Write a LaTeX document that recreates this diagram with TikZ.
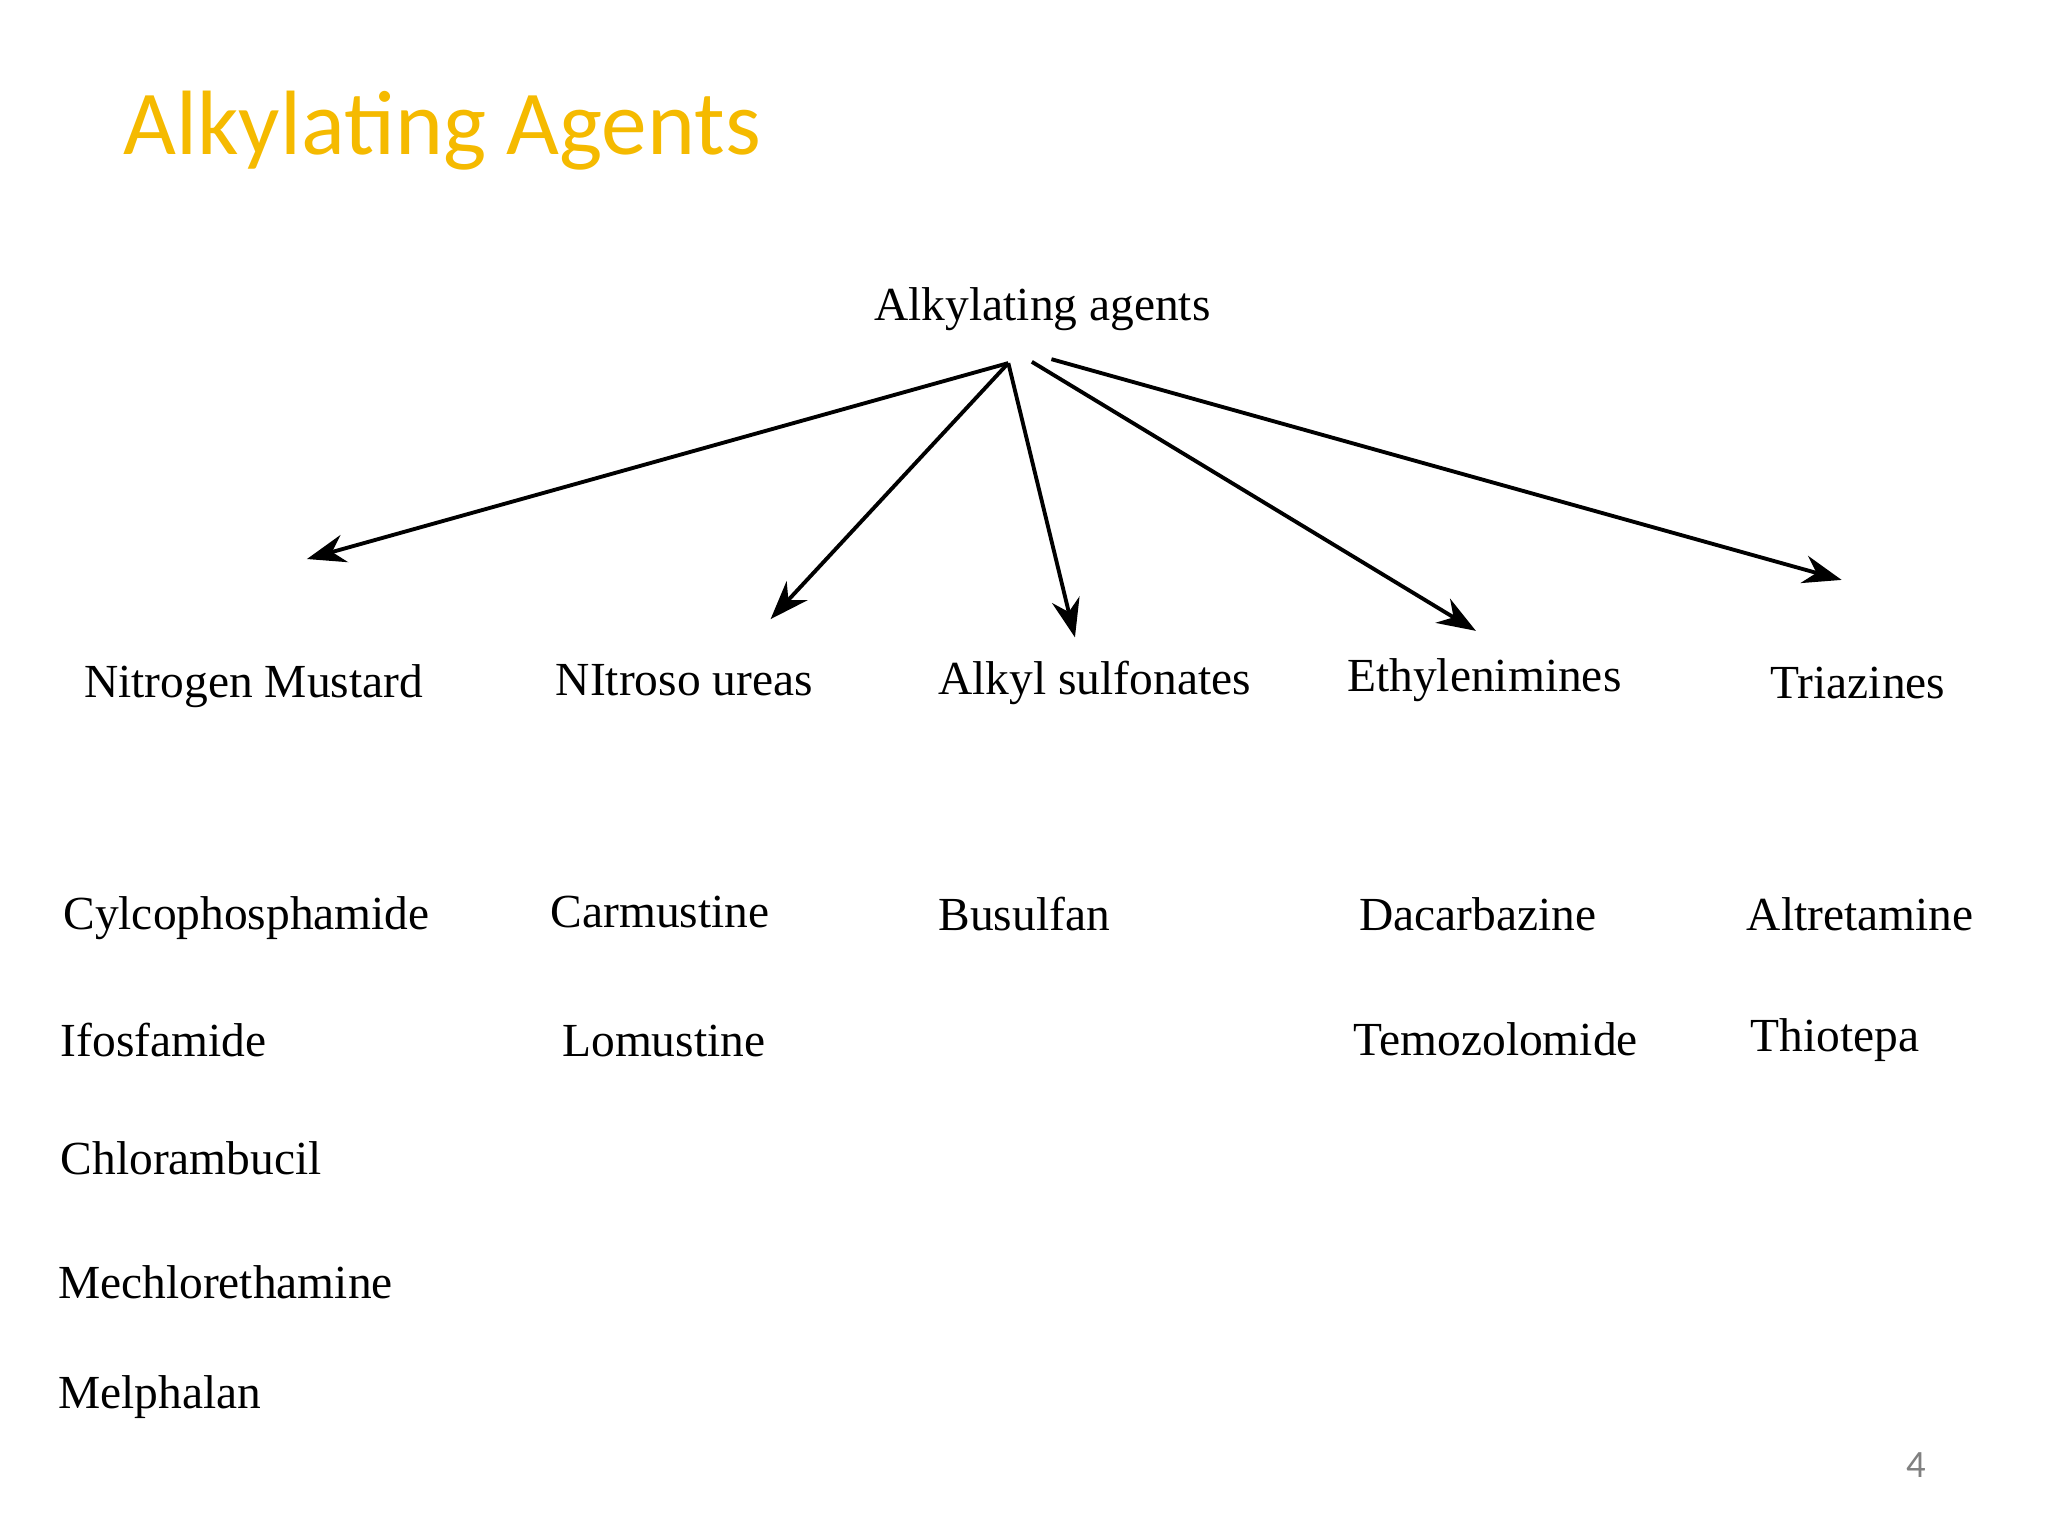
\documentclass[tikz,border=0pt]{standalone}
\usepackage{fontspec}
\setmainfont{Liberation Serif}
\newfontfamily\titlefont{Carlito}
\usetikzlibrary{arrows.meta}
\definecolor{titleor}{HTML}{F5BA00}
\begin{document}
\begin{tikzpicture}[x=0.013061cm,y=-0.013061cm,
  lbl/.style={anchor=west,inner sep=0pt,font=\fontsize{13.5}{15}\selectfont},
  arr/.style={line width=1.1pt,-{Stealth[length=11pt,width=8pt]}}]
\useasboundingbox (0,0) rectangle (1568,1176);
\node[anchor=west,inner sep=0pt,text=titleor,font=\titlefont\fontsize{26}{30}\selectfont] (title) at (94,100) {Alkylating Agents};
\node[lbl] (root) at (669,237) {Alkylating agents};
\coordinate (s1) at (772,278);
\coordinate (s2) at (790,277);
\coordinate (s3) at (805,275);
\coordinate (e1) at (235,428);
\coordinate (e2) at (590,474);
\coordinate (e3) at (823,488);
\coordinate (e4) at (1130,483);
\coordinate (e5) at (1410,444);
\draw[arr] (s1) -- (e1);
\draw[arr] (s1) -- (e2);
\draw[arr] (s1) -- (e3);
\draw[arr] (s2) -- (e4);
\draw[arr] (s3) -- (e5);
\node[lbl] (c1) at (64,525) {Nitrogen Mustard};
\node[lbl] (c2) at (425,521) {NItroso ureas};
\node[lbl] (c3) at (718,523) {Alkyl sulfonates};
\node[lbl] (c4) at (1031,521) {Ethylenimines};
\node[lbl] (c5) at (1355,523) {Triazines};
\node[lbl] (a1) at (48,703) {Cylcophosphamide};
\node[lbl] (a2) at (46,796) {Ifosfamide};
\node[lbl] (a3) at (46,887) {Chlorambucil};
\node[lbl] (a4) at (44,982) {Mechlorethamine};
\node[lbl] (a5) at (44,1070) {Melphalan};
\node[lbl] (b1) at (421,698) {Carmustine};
\node[lbl] (b2) at (430,797) {Lomustine};
\node[lbl] (d1) at (718,700) {Busulfan};
\node[lbl] (f1) at (1040,700) {Dacarbazine};
\node[lbl] (f2) at (1036,796) {Temozolomide};
\node[lbl] (g1) at (1337,700) {Altretamine};
\node[lbl] (g2) at (1340,796) {Thiotepa};
\node[inner sep=0pt,text=gray,font=\titlefont\fontsize{11}{12}\selectfont] (pg) at (1467,1122) {4};
\end{tikzpicture}
\end{document}
